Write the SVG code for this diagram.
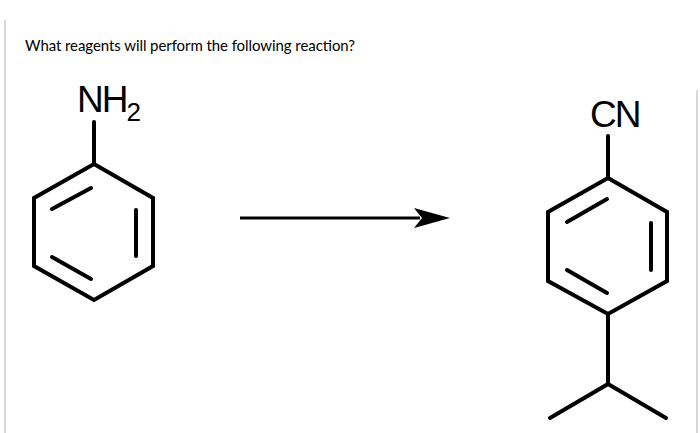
<svg xmlns="http://www.w3.org/2000/svg" width="700" height="433" viewBox="0 0 700 433">
<style>
.b{stroke:#000;stroke-width:4;fill:none;stroke-linecap:round;stroke-linejoin:miter}
.lbl{font-family:"Liberation Sans",Arial,sans-serif;font-size:37px;fill:#000}
</style>
<rect width="700" height="433" fill="#fff"/>
<line x1="5" y1="20" x2="5" y2="433" stroke="#ccc" stroke-width="1.5"/>
<line x1="697" y1="90" x2="697" y2="433" stroke="#ccc" stroke-width="1.5"/>
<text x="25" y="51" font-family="Lato,'Liberation Sans',sans-serif" font-size="15" fill="#000" textLength="330">What reagents will perform the following reaction?</text>
<g id="aniline">
<text class="lbl" x="77" y="112" letter-spacing="-2">NH<tspan font-size="26" dy="9">2</tspan></text>
<line class="b" x1="94" y1="122" x2="94" y2="164"/>
<polygon class="b" points="94,164 153,198 153,266 94,300 34,266 34,198"/>
<line class="b" x1="52" y1="209" x2="91" y2="188"/>
<line class="b" x1="136" y1="210" x2="136" y2="256"/>
<line class="b" x1="52" y1="257" x2="91" y2="279"/>
</g>
<g id="connectors">
<line x1="240" y1="218" x2="420" y2="218" stroke="#000" stroke-width="3"/>
<polygon points="450,218 414,208 422,218 414,228" fill="#000"/>
</g>
<g id="product">
<text class="lbl" x="590" y="127" letter-spacing="-2">CN</text>
<line class="b" x1="608" y1="136" x2="608" y2="178"/>
<polygon class="b" points="608,178 667,212 667,281 608,314 548,281 548,212"/>
<line class="b" x1="567" y1="222" x2="607" y2="199"/>
<line class="b" x1="651" y1="223" x2="651" y2="270"/>
<line class="b" x1="567" y1="270" x2="607" y2="293"/>
<polyline class="b" points="608,314 608,384 550,418"/>
<line class="b" x1="608" y1="384" x2="666" y2="418"/>
</g>
</svg>
